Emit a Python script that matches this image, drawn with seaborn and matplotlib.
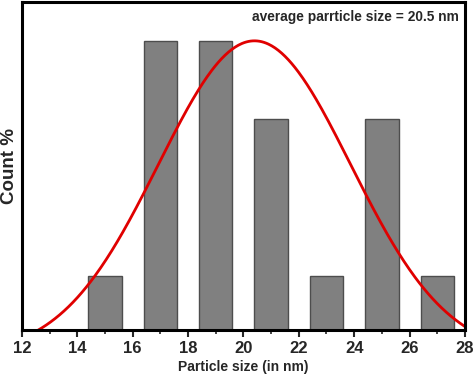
import numpy as np
import pandas as pd
import matplotlib
matplotlib.use("Agg")
import matplotlib.pyplot as plt
import seaborn as sns
from matplotlib.ticker import MultipleLocator

# ---------------- DATA ----------------
sizes = [15, 17, 19, 21, 23, 25, 27]
counts = [5.05, 27.0, 27.0, 19.7, 5.05, 19.7, 5.05]

# gaussian fit parameters
fit_center = 20.4
fit_sigma = 3.47
fit_amp = 29.3
fit_offset = -2.33

bars = pd.DataFrame({"size": sizes, "count": counts})
xs = np.linspace(12, 28, 400)
fit = pd.DataFrame({"size": xs,
                    "count": fit_offset + fit_amp * np.exp(-(xs - fit_center) ** 2 / (2 * fit_sigma ** 2))})

# ---------------- PLOT ----------------
sns.set_style("ticks")
plt.rcParams["font.family"] = ["Liberation Sans", "DejaVu Sans"]

fig = plt.figure(figsize=(4.74, 3.79), dpi=100)
ax = fig.add_axes([0.046, 0.129, 0.935, 0.866])

sns.barplot(data=bars, x="size", y="count", native_scale=True, width=0.6,
            color="#808080", saturation=1, edgecolor="#4d4d4d", linewidth=1, ax=ax)
sns.lineplot(data=fit, x="size", y="count", color="#e00000", linewidth=2, ax=ax)

ax.set_xlim(12, 28)
ax.set_ylim(0, 30.6)
ax.xaxis.set_major_locator(MultipleLocator(2))
ax.xaxis.set_minor_locator(MultipleLocator(1))
ax.set_yticks([])
ax.tick_params(axis="x", which="major", length=5, width=1.5, labelsize=12, direction="out", pad=3)
ax.tick_params(axis="x", which="minor", length=3, width=1.2, direction="out")
for lab in ax.get_xticklabels():
    lab.set_fontweight("bold")

for s in ax.spines.values():
    s.set_visible(True)
    s.set_linewidth(2.2)
    s.set_color("black")

ax.set_xlabel("Particle size (in nm)", fontsize=10, fontweight="bold", labelpad=3)
ax.set_ylabel("Count %", fontsize=13.5, fontweight="bold", labelpad=3)
ax.text(0.987, 0.975, "average parrticle size = 20.5 nm", transform=ax.transAxes,
        ha="right", va="top", fontsize=9.9, fontweight="bold")

fig.savefig("out.png", dpi=100)
